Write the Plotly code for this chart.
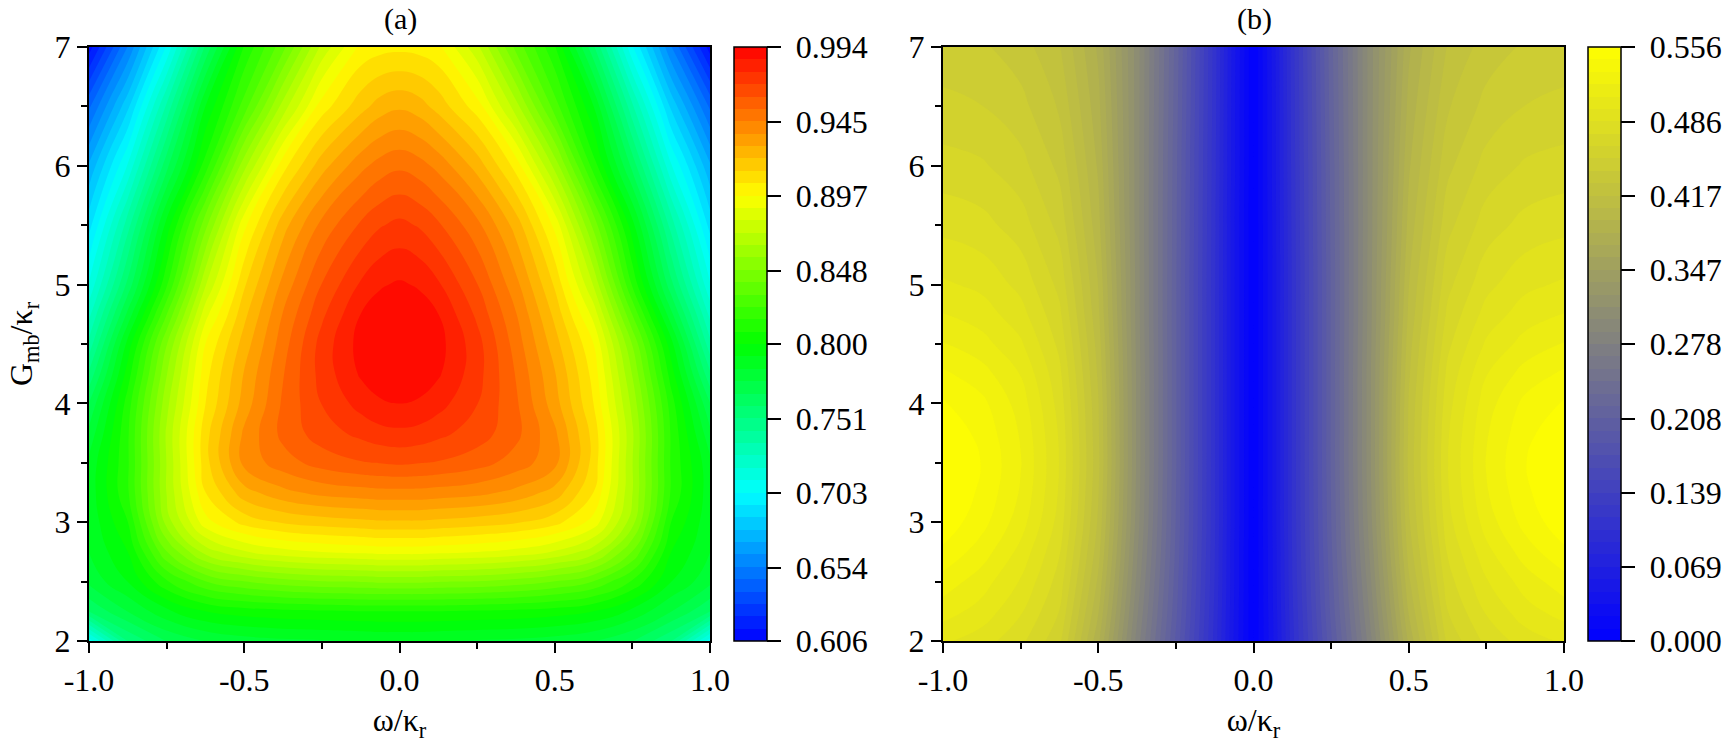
import plotly.graph_objects as go

# grid
omega = [-1.0, -0.875, -0.75, -0.625, -0.5, -0.375, -0.25, -0.125, -0.0625, 0.0,
         0.0625, 0.125, 0.25, 0.375, 0.5, 0.625, 0.75, 0.875, 1.0]
g_mb = [2.0, 2.25, 2.5, 2.75, 3.0, 3.25, 3.5, 3.75, 4.0, 4.25, 4.5, 4.75, 5.0, 5.5, 6.0, 6.5, 7.0]

# panel (a), one row per g_mb value
fid_a = [
    [0.706, 0.752, 0.768, 0.776, 0.780, 0.782, 0.783, 0.784, 0.785, 0.785, 0.785, 0.784, 0.783, 0.782, 0.780, 0.776, 0.768, 0.752, 0.706],
    [0.760, 0.776, 0.790, 0.800, 0.804, 0.806, 0.807, 0.808, 0.808, 0.808, 0.808, 0.808, 0.807, 0.806, 0.804, 0.800, 0.790, 0.776, 0.760],
    [0.778, 0.792, 0.815, 0.832, 0.840, 0.845, 0.848, 0.849, 0.850, 0.850, 0.850, 0.849, 0.848, 0.845, 0.840, 0.832, 0.815, 0.792, 0.778],
    [0.784, 0.800, 0.840, 0.868, 0.880, 0.886, 0.889, 0.891, 0.892, 0.892, 0.892, 0.891, 0.889, 0.886, 0.880, 0.868, 0.840, 0.800, 0.784],
    [0.786, 0.808, 0.860, 0.894, 0.908, 0.914, 0.917, 0.919, 0.920, 0.920, 0.920, 0.919, 0.917, 0.914, 0.908, 0.894, 0.860, 0.808, 0.786],
    [0.787, 0.815, 0.865, 0.905, 0.926, 0.935, 0.940, 0.942, 0.943, 0.943, 0.943, 0.942, 0.940, 0.935, 0.926, 0.905, 0.865, 0.815, 0.787],
    [0.786, 0.815, 0.865, 0.910, 0.940, 0.950, 0.957, 0.961, 0.962, 0.963, 0.962, 0.961, 0.957, 0.950, 0.940, 0.910, 0.865, 0.815, 0.786],
    [0.778, 0.815, 0.866, 0.910, 0.939, 0.956, 0.966, 0.972, 0.975, 0.976, 0.975, 0.972, 0.966, 0.956, 0.939, 0.910, 0.866, 0.815, 0.778],
    [0.768, 0.812, 0.862, 0.905, 0.933, 0.955, 0.970, 0.981, 0.985, 0.986, 0.985, 0.981, 0.970, 0.955, 0.933, 0.905, 0.862, 0.812, 0.768],
    [0.753, 0.804, 0.856, 0.902, 0.930, 0.953, 0.973, 0.987, 0.990, 0.991, 0.990, 0.987, 0.973, 0.953, 0.930, 0.902, 0.856, 0.804, 0.753],
    [0.738, 0.795, 0.848, 0.897, 0.925, 0.950, 0.973, 0.989, 0.993, 0.994, 0.993, 0.989, 0.973, 0.950, 0.925, 0.897, 0.848, 0.795, 0.738],
    [0.725, 0.778, 0.832, 0.886, 0.919, 0.946, 0.968, 0.986, 0.990, 0.992, 0.990, 0.986, 0.968, 0.946, 0.919, 0.886, 0.832, 0.778, 0.725],
    [0.712, 0.762, 0.815, 0.872, 0.912, 0.940, 0.962, 0.979, 0.985, 0.987, 0.985, 0.979, 0.962, 0.940, 0.912, 0.872, 0.815, 0.762, 0.712],
    [0.692, 0.740, 0.795, 0.846, 0.895, 0.926, 0.948, 0.963, 0.969, 0.972, 0.969, 0.963, 0.948, 0.926, 0.895, 0.846, 0.795, 0.740, 0.692],
    [0.672, 0.712, 0.765, 0.812, 0.862, 0.902, 0.926, 0.943, 0.949, 0.952, 0.949, 0.943, 0.926, 0.902, 0.862, 0.812, 0.765, 0.712, 0.672],
    [0.645, 0.685, 0.737, 0.792, 0.828, 0.868, 0.901, 0.918, 0.925, 0.928, 0.925, 0.918, 0.901, 0.868, 0.828, 0.792, 0.737, 0.685, 0.645],
    [0.610, 0.655, 0.704, 0.761, 0.809, 0.838, 0.875, 0.899, 0.902, 0.903, 0.902, 0.899, 0.875, 0.838, 0.809, 0.761, 0.704, 0.655, 0.610],
]

# panel (b)
val_b = [
    [0.500, 0.492, 0.478, 0.455, 0.385, 0.285, 0.195, 0.100, 0.045, 0.0, 0.045, 0.100, 0.195, 0.285, 0.385, 0.455, 0.478, 0.492, 0.500],
    [0.515, 0.505, 0.488, 0.463, 0.395, 0.292, 0.200, 0.102, 0.046, 0.0, 0.046, 0.102, 0.200, 0.292, 0.395, 0.463, 0.488, 0.505, 0.515],
    [0.528, 0.515, 0.497, 0.470, 0.403, 0.298, 0.203, 0.104, 0.047, 0.0, 0.047, 0.104, 0.203, 0.298, 0.403, 0.470, 0.497, 0.515, 0.528],
    [0.542, 0.527, 0.506, 0.476, 0.410, 0.303, 0.206, 0.105, 0.047, 0.0, 0.047, 0.105, 0.206, 0.303, 0.410, 0.476, 0.506, 0.527, 0.542],
    [0.552, 0.537, 0.515, 0.482, 0.415, 0.307, 0.208, 0.106, 0.048, 0.0, 0.048, 0.106, 0.208, 0.307, 0.415, 0.482, 0.515, 0.537, 0.552],
    [0.556, 0.542, 0.520, 0.485, 0.418, 0.309, 0.209, 0.106, 0.048, 0.0, 0.048, 0.106, 0.209, 0.309, 0.418, 0.485, 0.520, 0.542, 0.556],
    [0.556, 0.544, 0.522, 0.486, 0.420, 0.310, 0.210, 0.106, 0.048, 0.0, 0.048, 0.106, 0.210, 0.310, 0.420, 0.486, 0.522, 0.544, 0.556],
    [0.553, 0.541, 0.520, 0.485, 0.419, 0.310, 0.210, 0.106, 0.048, 0.0, 0.048, 0.106, 0.210, 0.310, 0.419, 0.485, 0.520, 0.541, 0.553],
    [0.546, 0.536, 0.516, 0.482, 0.418, 0.310, 0.210, 0.106, 0.048, 0.0, 0.048, 0.106, 0.210, 0.310, 0.418, 0.482, 0.516, 0.536, 0.546],
    [0.535, 0.526, 0.509, 0.478, 0.415, 0.310, 0.210, 0.106, 0.048, 0.0, 0.048, 0.106, 0.210, 0.310, 0.415, 0.478, 0.509, 0.526, 0.535],
    [0.522, 0.514, 0.500, 0.472, 0.412, 0.309, 0.210, 0.106, 0.048, 0.0, 0.048, 0.106, 0.210, 0.309, 0.412, 0.472, 0.500, 0.514, 0.522],
    [0.510, 0.504, 0.491, 0.466, 0.408, 0.308, 0.210, 0.106, 0.048, 0.0, 0.048, 0.106, 0.210, 0.308, 0.408, 0.466, 0.491, 0.504, 0.510],
    [0.500, 0.495, 0.483, 0.460, 0.405, 0.308, 0.210, 0.106, 0.048, 0.0, 0.048, 0.106, 0.210, 0.308, 0.405, 0.460, 0.483, 0.495, 0.500],
    [0.483, 0.479, 0.469, 0.448, 0.398, 0.307, 0.211, 0.107, 0.048, 0.0, 0.048, 0.107, 0.211, 0.307, 0.398, 0.448, 0.469, 0.479, 0.483],
    [0.468, 0.465, 0.456, 0.437, 0.392, 0.307, 0.212, 0.108, 0.049, 0.0, 0.049, 0.108, 0.212, 0.307, 0.392, 0.437, 0.456, 0.465, 0.468],
    [0.455, 0.452, 0.444, 0.427, 0.386, 0.307, 0.214, 0.109, 0.049, 0.0, 0.049, 0.109, 0.214, 0.307, 0.386, 0.427, 0.444, 0.452, 0.455],
    [0.445, 0.442, 0.434, 0.418, 0.380, 0.307, 0.216, 0.110, 0.050, 0.0, 0.050, 0.110, 0.216, 0.307, 0.380, 0.418, 0.434, 0.442, 0.445],
]

cbar_a_ticks = [0.606, 0.654, 0.703, 0.751, 0.800, 0.848, 0.897, 0.945, 0.994]
cbar_b_ticks = [0.000, 0.069, 0.139, 0.208, 0.278, 0.347, 0.417, 0.486, 0.556]
x_ticks = [-1.0, -0.5, 0.0, 0.5, 1.0]
x_ticktext = ["-1.0", "-0.5", "0.0", "0.5", "1.0"]
y_ticks = [2, 3, 4, 5, 6, 7]

W, H = 1725, 745
FONT = "Liberation Serif, Times New Roman, serif"
n_levels = 48

rainbow = [[0, "#0000ff"], [0.25, "#00ffff"], [0.5, "#00ff00"], [0.75, "#ffff00"], [1, "#ff0000"]]
blue_yellow = [[0, "#0000ff"], [0.5, "#808080"], [1, "#ffff00"]]


def px_x(p):
    return p / W


def px_y(p):
    return 1 - p / H


def cbar(x_px, ticks):
    return dict(
        x=px_x(x_px), xanchor="left", xpad=0, ypad=0,
        y=px_y(344), yanchor="middle",
        len=594, lenmode="pixels", thickness=33,
        outlinewidth=1.5, outlinecolor="black",
        ticks="outside", ticklen=14, tickwidth=2, tickcolor="black",
        tickvals=ticks, ticktext=["\u00a0%.3f" % t for t in ticks],
        tickfont=dict(family=FONT, size=32, color="black"),
    )


fig = go.Figure()
fig.add_trace(go.Contour(
    x=omega, y=g_mb, z=fid_a, xaxis="x", yaxis="y",
    colorscale=rainbow, zmin=0.606, zmax=0.994,
    contours=dict(start=0.606, end=0.994, size=(0.994 - 0.606) / n_levels,
                  coloring="fill", showlines=False),
    line=dict(width=0, smoothing=1.3),
    colorbar=cbar(734, cbar_a_ticks),
))
fig.add_trace(go.Contour(
    x=omega, y=g_mb, z=val_b, xaxis="x2", yaxis="y2",
    colorscale=blue_yellow, zmin=0.0, zmax=0.556,
    contours=dict(start=0.0, end=0.556, size=0.556 / n_levels,
                  coloring="fill", showlines=False),
    line=dict(width=0, smoothing=1.3),
    colorbar=cbar(1588, cbar_b_ticks),
))

axis_common = dict(
    showline=True, linewidth=2, linecolor="black", mirror=True,
    ticks="outside", ticklen=10, tickwidth=2, tickcolor="black",
    showgrid=False, zeroline=False,
    tickfont=dict(family=FONT, size=32, color="black"),
)
xa = dict(axis_common, range=[-1, 1], tickvals=x_ticks, ticktext=x_ticktext,
          minor=dict(tickvals=[-0.75, -0.25, 0.25, 0.75], ticklen=6, tickwidth=2, tickcolor="black", ticks="outside"),
          title=dict(text="ω/κ<sub>r</sub>", font=dict(family=FONT, size=32, color="black"), standoff=11))
ya = dict(axis_common, range=[2, 7], tickvals=y_ticks,
          minor=dict(tickvals=[2.5, 3.5, 4.5, 5.5, 6.5], ticklen=6, tickwidth=2, tickcolor="black", ticks="outside"))

fig.update_layout(
    width=W, height=H,
    margin=dict(l=0, r=0, t=0, b=0, autoexpand=False),
    paper_bgcolor="white", plot_bgcolor="white",
    font=dict(family=FONT, size=32, color="black"),
    xaxis=dict(xa, domain=[px_x(89), px_x(710)], anchor="y"),
    yaxis=dict(ya, domain=[px_y(641), px_y(47)], anchor="x",
               title=dict(text="G<sub>mb</sub>/κ<sub>r</sub>", font=dict(family=FONT, size=32, color="black"), standoff=12)),
    xaxis2=dict(xa, domain=[px_x(943), px_x(1564)], anchor="y2"),
    yaxis2=dict(ya, domain=[px_y(641), px_y(47)], anchor="x2"),
    annotations=[
        dict(text="(a)", x=px_x(400), y=px_y(19), xref="paper", yref="paper",
             xanchor="center", yanchor="middle",
             showarrow=False, font=dict(family=FONT, size=30, color="black")),
        dict(text="(b)", x=px_x(1254), y=px_y(19), xref="paper", yref="paper",
             xanchor="center", yanchor="middle",
             showarrow=False, font=dict(family=FONT, size=30, color="black")),
    ],
)

fig.write_html(
    "out.html",
    config={"displayModeBar": False},
    post_script="document.body.style.margin='0px';document.body.style.overflow='hidden';",
)
